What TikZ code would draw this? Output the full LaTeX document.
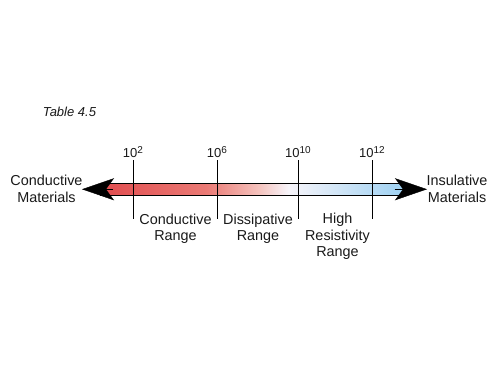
\documentclass[tikz,border=0pt]{standalone}
\usepackage{fontspec}
\setmainfont{Liberation Sans}
\usetikzlibrary{arrows.meta}
\usetikzlibrary{positioning}
\pgfdeclarelayer{edgelayer}
\pgfdeclarelayer{nodelayer}
\pgfsetlayers{edgelayer,nodelayer,main}
\definecolor{labelgrey}{RGB}{25,25,25}
\pgfdeclarehorizontalshading{resbar}{100bp}{rgb(0bp)=(0.88,0.30,0.31); rgb(25bp)=(0.88,0.30,0.31); rgb(42.5bp)=(0.92,0.48,0.46); rgb(51bp)=(0.96,0.76,0.74); rgb(56bp)=(0.97,0.96,0.98); rgb(75bp)=(0.62,0.82,0.95); rgb(100bp)=(0.62,0.82,0.95)}
\newcommand{\pw}[1]{10\raisebox{4.5pt}{\fontsize{10}{10}\selectfont #1}}
\tikzstyle{rangetext}=[align=center,inner sep=0pt,anchor=north,text=labelgrey,font=\fontsize{14.4}{16.5}\selectfont]
\tikzstyle{power}=[inner sep=0pt,anchor=base,text=labelgrey,font=\fontsize{13}{15}\selectfont]
\tikzstyle{tickline}=[-,draw=black,line width=0.9pt]
\tikzstyle{headarrow}=[-{Stealth[length=32pt,width=22pt,inset=8pt]},draw=black,line width=0.4pt]

\begin{document}
\begin{tikzpicture}[x=25pt,y=25pt]
	\useasboundingbox (-10,-7.5) rectangle (10,7.5);
	\begin{pgfonlayer}{nodelayer}
		\node [] (0) at (-5.98, 0.17) {};
		\node [] (1) at (6.15, -0.33) {};
		\node [] (2) at (-5.48, -0.07) {};
		\node [] (3) at (-6.72, -0.07) {};
		\node [] (4) at (5.78, -0.07) {};
		\node [] (5) at (7.08, -0.07) {};
		\node [] (6) at (-4.68, 1.1) {};
		\node [] (7) at (-4.68, -1.26) {};
		\node [] (8) at (-1.32, 1.1) {};
		\node [] (9) at (-1.32, -1.26) {};
		\node [] (10) at (1.92, 1.1) {};
		\node [] (11) at (1.92, -1.26) {};
		\node [] (12) at (4.88, 1.1) {};
		\node [] (13) at (4.88, -1.26) {};
		\node [style=power] (14) at (-4.68, 1.2) {\pw{2}};
		\node [style=power] (15) at (-1.32, 1.2) {\pw{6}};
		\node [style=power] (16) at (1.92, 1.2) {\pw{10}};
		\node [style=power] (17) at (4.88, 1.2) {\pw{12}};
		\node [style=power, font=\fontsize{13}{15}\selectfont\itshape] (18) at (-7.22, 2.83) {Table 4.5};
		\node [style=rangetext] (19) at (-8.14, 0.5) {Conductive\\Materials};
		\node [style=rangetext] (20) at (8.28, 0.5) {Insulative\\Materials};
		\node [style=rangetext] (21) at (-2.98, -1.05) {Conductive\\Range};
		\node [style=rangetext] (22) at (0.32, -1.05) {Dissipative\\Range};
		\node [style=rangetext] (23) at (3.5, -1.03) {High\\Resistivity\\Range};
	\end{pgfonlayer}
	\begin{pgfonlayer}{edgelayer}
		\shadedraw [shading=resbar, draw=black, line width=0.6pt] (0.center) rectangle (1.center);
		\draw [style=headarrow] (2.center) to (3.center);
		\draw [style=headarrow] (4.center) to (5.center);
		\draw [style=tickline] (6.center) to (7.center);
		\draw [style=tickline] (8.center) to (9.center);
		\draw [style=tickline] (10.center) to (11.center);
		\draw [style=tickline] (12.center) to (13.center);
	\end{pgfonlayer}
\end{tikzpicture}
\end{document}
